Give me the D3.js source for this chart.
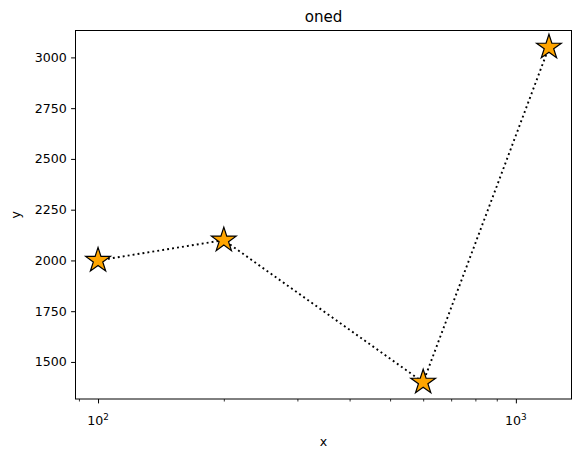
<!DOCTYPE html>
<html><head><meta charset="utf-8">
<script src="https://cdn.jsdelivr.net/npm/d3@7"></script>
<style>body{margin:0;background:#fff;} text{font-family:"DejaVu Sans",sans-serif;fill:#000;}</style>
</head><body>
<svg id="c" width="580" height="457"></svg>
<script>
const xs = [100, 200, 600, 1200];
const ys = [2000, 2100, 1400, 3050];
const yTicks = [1500, 1750, 2000, 2250, 2500, 2750, 3000];
const xMajor = [100, 1000];
const xMinor = [90, 200, 300, 400, 500, 600, 700, 800, 900];
const title = "oned", xLabel = "x", yLabel = "y";

const W = 580, H = 457;
const L = 75.5, R = 571.5, T = 30.5, B = 399;
const svg = d3.select("#c");
const lx0 = Math.log10(d3.min(xs)), lx1 = Math.log10(d3.max(xs));
const mx = (lx1 - lx0) * 0.05;
const x = d3.scaleLog().domain([Math.pow(10, lx0 - mx), Math.pow(10, lx1 + mx)]).range([L, R]);
const y0 = d3.min(ys), y1 = d3.max(ys), my = (y1 - y0) * 0.05;
const y = d3.scaleLinear().domain([y0 - my, y1 + my]).range([B, T]);

const fs = 12.6;
// line
svg.append("path")
  .attr("d", d3.line().x((d,i)=>x(xs[i])).y(d=>y(d))(ys))
  .attr("fill","none").attr("stroke","#000").attr("stroke-width",1.9)
  .attr("stroke-dasharray","1.9,3.1");

// stars
const r = 13, ri = r * 0.381966;
function starPath(cx, cy) {
  const pts = [];
  for (let k = 0; k < 10; k++) {
    const rr = k % 2 === 0 ? r : ri;
    const a = -Math.PI/2 + k * Math.PI/5;
    pts.push([cx + rr*Math.cos(a), cy + rr*Math.sin(a)]);
  }
  return "M" + pts.map(p=>p.join(",")).join("L") + "Z";
}
svg.selectAll("path.star").data(ys).enter().append("path")
  .attr("class","star")
  .attr("d",(d,i)=>starPath(x(xs[i]), y(d)))
  .attr("fill","#FFA500").attr("stroke","#000").attr("stroke-width",1.2)
  .attr("stroke-linejoin","miter");

// frame
svg.append("rect").attr("x",L).attr("y",T).attr("width",R-L).attr("height",B-T)
  .attr("fill","none").attr("stroke","#000").attr("stroke-width",1);

// y axis
const ya = svg.append("g").attr("transform",`translate(${L},0)`)
  .call(d3.axisLeft(y).tickValues(yTicks).tickSize(4.4).tickPadding(4.4).tickFormat(d3.format("d")));
ya.select(".domain").remove();
ya.selectAll(".tick line").attr("stroke","#000").attr("stroke-width",1);
ya.selectAll(".tick text").attr("font-size",fs).attr("font-family","DejaVu Sans").attr("fill","#000");

// x axis major
const xa = svg.append("g").attr("transform",`translate(0,${B})`)
  .call(d3.axisBottom(x).tickValues(xMajor).tickSize(4.4).tickFormat(""));
xa.select(".domain").remove();
xa.selectAll(".tick line").attr("stroke","#000").attr("stroke-width",1);
const xm = svg.append("g").attr("transform",`translate(0,${B})`)
  .call(d3.axisBottom(x).tickValues(xMinor).tickSize(2.5).tickFormat(""));
xm.select(".domain").remove();
xm.selectAll(".tick line").attr("stroke","#000").attr("stroke-width",0.8);

xMajor.forEach(v => {
  const e = Math.round(Math.log10(v));
  const t = svg.append("text").attr("x", x(v)).attr("y", 425).attr("text-anchor","middle")
    .attr("font-size", fs);
  t.append("tspan").text("10");
  t.append("tspan").attr("dy", -5.5).attr("font-size", fs*0.7).text(String(e));
});

// title & labels
svg.append("text").attr("x",(L+R)/2).attr("y",21.5).attr("text-anchor","middle")
  .attr("font-size",15.1).text(title);
svg.append("text").attr("x",(L+R)/2).attr("y",446).attr("text-anchor","middle")
  .attr("font-size",fs).text(xLabel);
svg.append("text").attr("transform",`translate(19.5,${(T+B)/2}) rotate(-90)`).attr("text-anchor","middle")
  .attr("font-size",fs).text(yLabel);
</script>
</body></html>
